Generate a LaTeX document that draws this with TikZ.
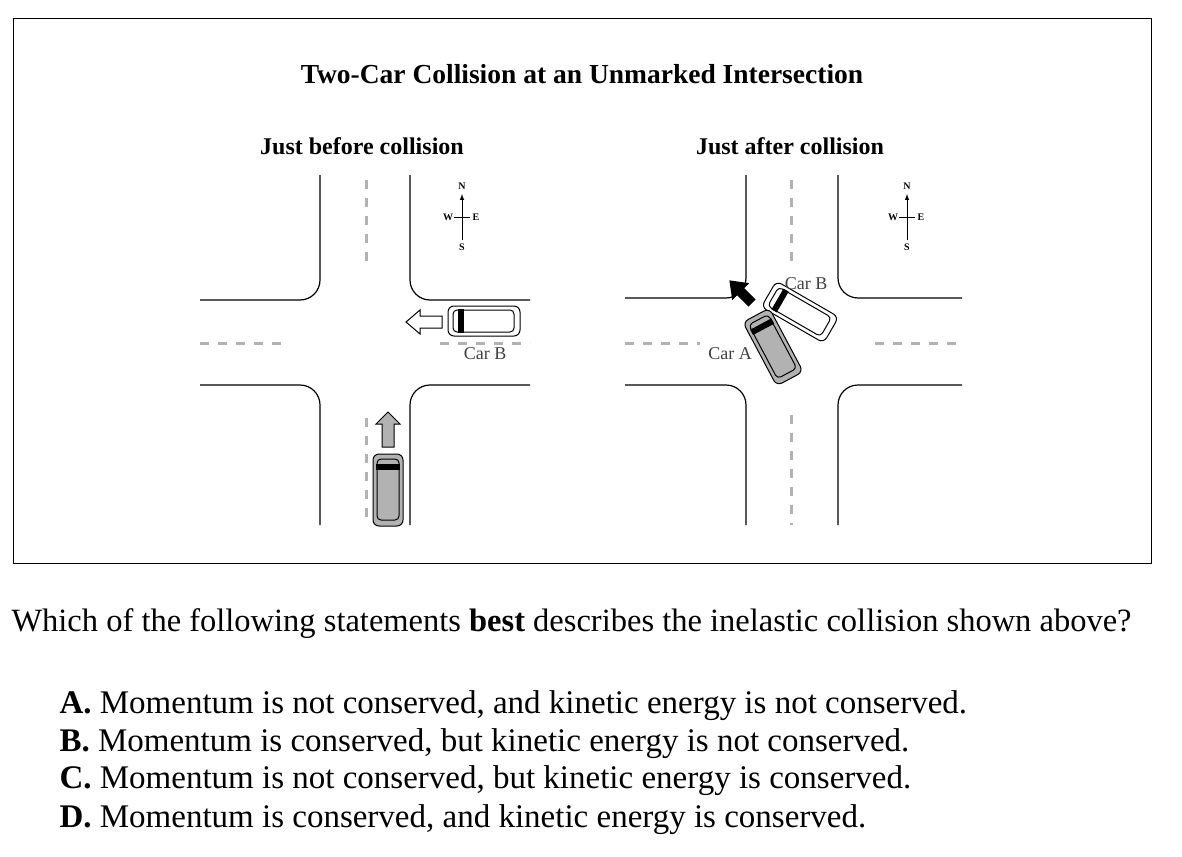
\documentclass[tikz,border=0pt]{standalone}
\usepackage{fontspec}
\setmainfont{Liberation Serif}
\begin{document}
\begin{tikzpicture}[x=1pt,y=-1pt,
  road/.style={line width=1.2pt,rounded corners=20pt},
  cdash/.style={draw=gray!60,line width=3pt,dash pattern=on 9pt off 9pt},
  lbl/.style={font=\fontsize{18}{20}\selectfont,text=black!75},
  head/.style={font=\bfseries\fontsize{24}{28}\selectfont},
  cmp/.style={font=\bfseries\fontsize{10}{11}\selectfont},
  opt/.style={anchor=west,font=\fontsize{33}{38}\selectfont},
  car/.pic={
    \draw[line width=1pt,fill=#1,rounded corners=6pt] (-36,-15) rectangle (36,15);
    \draw[line width=1pt,fill=#1,rounded corners=4pt] (-30,-11) rectangle (31,11);
    \fill (20,-12) rectangle (26,12);
  }]
\useasboundingbox (0,0) rectangle (1182,856);
\draw[line width=0.8pt] (13,18) rectangle (1151,563);
\node[font=\bfseries\fontsize{27.5}{32}\selectfont] (title) at (582,74) {Two-Car Collision at an Unmarked Intersection};
\node[head] (hb) at (362,146) {Just before collision};
\node[head] (ha) at (790,146) {Just after collision};
% left intersection
\draw[cdash] (366,180) -- (366,268);
\draw[cdash] (366,418) -- (366,525);
\draw[cdash] (200,343) -- (285,343);
\draw[cdash] (440,343) -- (530,343);
\draw[road] (200,300) -- (320,300) -- (320,175);
\draw[road] (410,175) -- (410,300) -- (530,300);
\draw[road] (200,385) -- (320,385) -- (320,525);
\draw[road] (410,525) -- (410,385) -- (530,385);
% compass left
\draw[line width=1pt,-latex] (462,240) -- (462,194);
\draw[line width=1pt] (454,217) -- (470,217);
\node[cmp] (nl) at (462,186) {N};
\node[cmp] (sl) at (462,247) {S};
\node[cmp] (wl) at (448,217) {W};
\node[cmp] (el) at (476,217) {E};
\pic at (484,321) [rotate=180] {car=white};
\pic at (388,490) [rotate=90] {car=gray!60};
\draw[line width=1pt,fill=white] (406,322) -- (420,310) -- (420,316) -- (442,316) -- (442,328) -- (420,328) -- (420,334) -- cycle;
\draw[line width=1pt,fill=gray!60] (388,412) -- (400,424) -- (394,424) -- (394,447) -- (382,447) -- (382,424) -- (376,424) -- cycle;
\node[lbl] (cbl) at (485,354) {Car B};
% right intersection
\draw[cdash] (791,180) -- (791,268);
\draw[cdash] (791,415) -- (791,525);
\draw[cdash] (625,343) -- (700,343);
\draw[cdash] (875,343) -- (962,343);
\draw[road] (625,298) -- (746,298) -- (746,175);
\draw[road] (838,175) -- (838,298) -- (962,298);
\draw[road] (625,385) -- (746,385) -- (746,525);
\draw[road] (838,525) -- (838,385) -- (962,385);
\draw[line width=1pt,-latex] (907,240) -- (907,194);
\draw[line width=1pt] (899,217) -- (915,217);
\node[cmp] (nr) at (907,186) {N};
\node[cmp] (sr) at (907,247) {S};
\node[cmp] (wr) at (893,217) {W};
\node[cmp] (er) at (921,217) {E};
\pic at (800,312) [rotate=150] {car=white};
\pic at (773,347) [rotate=118] {car=gray!60};
\fill[shift={(752,303)},rotate=135] (0,-5) -- (16,-5) -- (16,-12) -- (32,0) -- (16,12) -- (16,5) -- (0,5) -- cycle;
\node[lbl] (cbr) at (806,284) {Car B};
\node[lbl] (car) at (730,354) {Car A};
% question
\node[anchor=west,font=\fontsize{32.5}{38}\selectfont] (q) at (8,624) {Which of the following statements \textbf{best} describes the inelastic collision shown above?};
\node[opt] (oa) at (56,706) {\textbf{A.} Momentum is not conserved, and kinetic energy is not conserved.};
\node[opt] (ob) at (56,744) {\textbf{B.} Momentum is conserved, but kinetic energy is not conserved.};
\node[opt] (oc) at (56,781) {\textbf{C.} Momentum is not conserved, but kinetic energy is conserved.};
\node[opt] (od) at (56,820) {\textbf{D.} Momentum is conserved, and kinetic energy is conserved.};
\end{tikzpicture}
\end{document}
